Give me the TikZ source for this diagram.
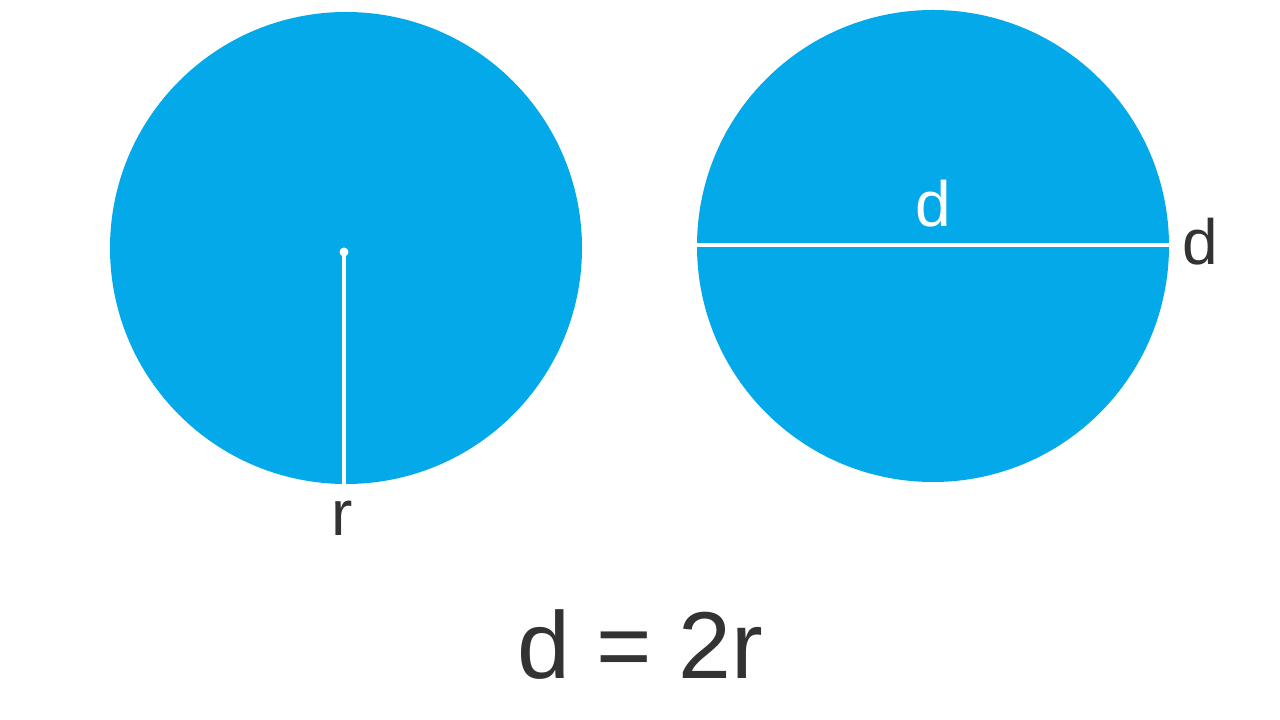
\documentclass[tikz,border=0pt]{standalone}
\usepackage{fontspec}
\setmainfont{Liberation Sans}
\definecolor{circblue}{RGB}{3,169,232}
\definecolor{txtgray}{RGB}{51,51,51}
\tikzset{
  disc/.style={fill=circblue, draw=none},
  whiteline/.style={draw=white, line width=4pt},
  lbl/.style={text=txtgray, font=\fontsize{64}{70}\selectfont, inner sep=0pt},
  inlbl/.style={text=white, font=\fontsize{64}{70}\selectfont, inner sep=0pt},
  eqlbl/.style={text=txtgray, font=\fontsize{95}{100}\selectfont, inner sep=0pt}
}
\begin{document}
\begin{tikzpicture}[x=1pt,y=1pt]
\useasboundingbox[fill=white] (0,0) rectangle (1280,720);
% left circle
\fill[disc] (346,472) circle (236);
\coordinate (ctr) at (344,468);
\coordinate (rim) at (344,236);
\draw[whiteline] (ctr) -- (rim);
\fill[white] (ctr) circle (4.5);
\node[lbl, anchor=base] (r) at (342,184) {r};
% right circle
\fill[disc] (933,474) circle (236);
\coordinate (dl) at (697,475);
\coordinate (dr) at (1169,475);
\draw[whiteline] (dl) -- (dr);
\node[inlbl, anchor=base] (din) at (933,493) {d};
\node[lbl, anchor=base] (dout) at (1200,455) {d};
% formula
\node[eqlbl, anchor=base] (eq) at (640,41) {d = 2r};
\end{tikzpicture}
\end{document}
